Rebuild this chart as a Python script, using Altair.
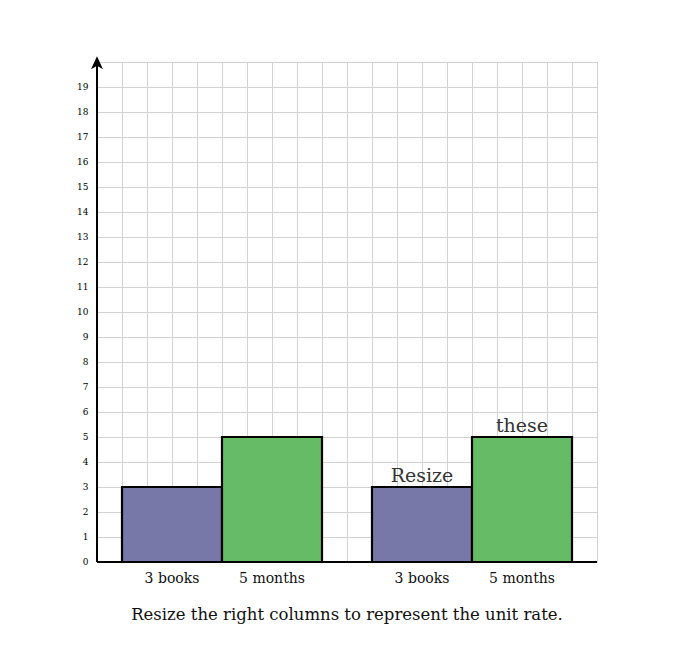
import altair as alt
import pandas as pd

labels = ["3 books", "5 months", "3 books", "5 months"]
values = [3, 5, 3, 5]
bar_start = [1, 5, 11, 15]
bar_end = [5, 9, 15, 19]
colors = ["#7878a8", "#66bb66", "#7878a8", "#66bb66"]
annotations = ["", "", "Resize", "these"]
y_ticks = list(range(0, 21))
caption = "Resize the right columns to represent the unit rate."

FONT = "DejaVu Serif"

df = pd.DataFrame({
    "label": labels, "value": values, "x0": bar_start, "x1": bar_end,
    "color": colors, "note": annotations,
})
df["mid"] = (df["x0"] + df["x1"]) / 2
df["zero"] = 0

xs = alt.Scale(domain=[0, 20], nice=False, zero=False)
ys = alt.Scale(domain=[0, 20], nice=False, zero=False)

XAX = alt.Axis(values=y_ticks, grid=True, labels=False, ticks=False,
               domain=False, title=None, gridColor="#d3d3d3", gridWidth=1)
YAX = alt.Axis(values=y_ticks, grid=True, ticks=False, domain=False,
               title=None, gridColor="#d3d3d3", gridWidth=1,
               labelExpr="datum.value == 20 ? '' : datum.label",
               labelFont=FONT, labelFontSize=9, labelColor="#000",
               labelPadding=9, labelOverlap=False, labelBaseline="bottom", labelOffset=4)

base = alt.Chart(df)

bars = base.mark_rect(stroke="black", strokeWidth=2.2).encode(
    x=alt.X("x0:Q", scale=xs, axis=XAX, title=None),
    x2="x1:Q",
    y=alt.Y("value:Q", scale=ys, axis=YAX, title=None),
    y2="zero:Q",
    fill=alt.Fill("color:N", scale=None),
)

xaxis = alt.Chart(pd.DataFrame({"a": [0], "b": [20], "z": [0]})).mark_rule(color="black", strokeWidth=2).encode(
    x=alt.X("a:Q", scale=xs, axis=XAX, title=None), x2="b:Q", y=alt.Y("z:Q", scale=ys, axis=YAX, title=None)
)

yaxis = alt.Chart(pd.DataFrame({"a": [0], "b": [20.1], "z": [0]})).mark_rule(color="black", strokeWidth=2).encode(
    x=alt.X("z:Q", scale=xs, axis=XAX, title=None), y=alt.Y("a:Q", scale=ys, axis=YAX, title=None), y2="b:Q"
)

arrow = alt.Chart(pd.DataFrame({"a": [19.95], "z": [0]})).mark_point(
    shape="M-0.6,0.6L0,-0.7L0.6,0.6L0,0.25Z", filled=True, color="black", size=400, opacity=1
).encode(x=alt.X("z:Q", scale=xs, axis=XAX, title=None), y=alt.Y("a:Q", scale=ys, axis=YAX, title=None))

xlabels = base.mark_text(font=FONT, fontSize=14, baseline="top", dy=10, color="#111").encode(
    x=alt.X("mid:Q", scale=xs, axis=XAX, title=None), y=alt.Y("zero:Q", scale=ys, axis=YAX, title=None),
    text="label:N"
)

notes = base.mark_text(font=FONT, fontSize=19, baseline="bottom", dy=-1, color="#333").encode(
    x=alt.X("mid:Q", scale=xs, axis=XAX, title=None), y=alt.Y("value:Q", scale=ys, axis=YAX, title=None),
    text="note:N"
)

chart = alt.layer(bars, xaxis, yaxis, arrow, xlabels, notes).properties(
    width=500, height=500,
    title=alt.TitleParams(caption, orient="bottom", font=FONT, fontSize=16.5, fontWeight="normal",
                          color="#111", offset=21, anchor="middle"),
    autosize=alt.AutoSizeParams(type="none"),
    padding={"left": 89, "top": 54, "right": 82, "bottom": 93},
).configure_view(stroke="#d3d3d3")

chart.save("out.html", embed_options={"renderer": "svg", "actions": False})
